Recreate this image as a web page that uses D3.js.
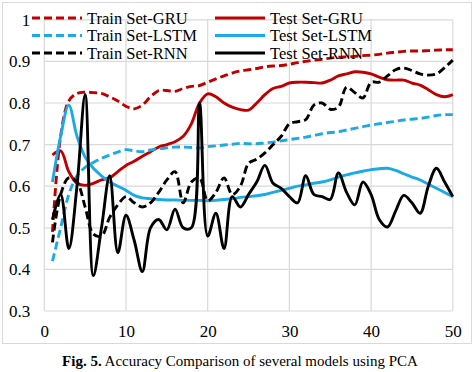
<!DOCTYPE html>
<html>
<head>
<meta charset="utf-8">
<script src="https://cdn.jsdelivr.net/npm/d3@7"></script>
<style>
  body { margin:0; background:#fff; }
  svg text { font-family:"Liberation Serif","Times New Roman",serif; }
</style>
</head>
<body>
<svg id="chart"></svg>
<script>
let width=474, height=372;
let epochs=d3.range(1,51);
let xTicks=[0,10,20,30,40,50];
let yTicks=[0.3,0.4,0.5,0.6,0.7,0.8,0.9,1];

let trainGRU=[0.49,0.72,0.805,0.823,0.826,0.825,0.823,0.815,0.805,0.792,0.786,0.795,0.815,0.83,0.83,0.828,0.835,0.84,0.842,0.85,0.858,0.865,0.872,0.877,0.88,0.883,0.887,0.889,0.89,0.893,0.897,0.9,0.903,0.905,0.908,0.91,0.911,0.912,0.914,0.915,0.917,0.92,0.922,0.924,0.925,0.925,0.926,0.927,0.928,0.928];
let testGRU=[0.675,0.685,0.635,0.607,0.602,0.607,0.615,0.62,0.635,0.65,0.66,0.672,0.683,0.694,0.7,0.707,0.72,0.75,0.8,0.822,0.815,0.8,0.79,0.784,0.783,0.8,0.82,0.835,0.84,0.848,0.85,0.85,0.849,0.848,0.855,0.865,0.87,0.875,0.874,0.87,0.862,0.856,0.855,0.855,0.848,0.843,0.832,0.82,0.815,0.82];
let trainLSTM=[0.42,0.5,0.58,0.625,0.645,0.657,0.667,0.675,0.682,0.688,0.685,0.683,0.687,0.69,0.692,0.694,0.694,0.693,0.692,0.695,0.697,0.699,0.701,0.703,0.702,0.702,0.704,0.706,0.709,0.712,0.715,0.718,0.722,0.726,0.729,0.731,0.735,0.739,0.743,0.747,0.75,0.753,0.756,0.759,0.761,0.763,0.766,0.77,0.772,0.772];
let testLSTM=[0.61,0.72,0.795,0.72,0.67,0.643,0.625,0.61,0.6,0.59,0.578,0.572,0.57,0.568,0.567,0.567,0.566,0.566,0.566,0.565,0.566,0.568,0.57,0.573,0.575,0.577,0.58,0.585,0.59,0.595,0.6,0.603,0.607,0.61,0.615,0.622,0.627,0.632,0.636,0.64,0.642,0.643,0.638,0.63,0.622,0.615,0.605,0.595,0.585,0.575];
let trainRNN=[0.465,0.58,0.62,0.61,0.55,0.485,0.48,0.525,0.555,0.575,0.56,0.55,0.56,0.585,0.615,0.635,0.56,0.61,0.62,0.565,0.585,0.62,0.58,0.6,0.655,0.665,0.68,0.7,0.72,0.75,0.755,0.76,0.795,0.8,0.785,0.79,0.838,0.825,0.812,0.85,0.85,0.865,0.88,0.884,0.878,0.87,0.867,0.87,0.885,0.903];
let testRNN=[0.52,0.58,0.45,0.6,0.82,0.385,0.5,0.625,0.44,0.53,0.47,0.395,0.5,0.52,0.495,0.545,0.5,0.5,0.8,0.48,0.535,0.45,0.575,0.55,0.58,0.61,0.65,0.607,0.595,0.575,0.56,0.625,0.58,0.575,0.568,0.632,0.585,0.555,0.61,0.58,0.52,0.502,0.54,0.578,0.56,0.535,0.6,0.643,0.61,0.575];

let seriesNames=['Train Set-GRU','Test Set-GRU','Train Set-LSTM','Test Set-LSTM','Train Set-RNN','Test Set-RNN'];
let seriesValues=[trainGRU,testGRU,trainLSTM,testLSTM,trainRNN,testRNN];
let seriesColors=['#C00000','#C00000','#1BAAE6','#1BAAE6','#000','#000'];
let seriesDashed=[true,false,true,false,true,false];

let svg=d3.select('#chart').attr('width',width).attr('height',height);

// outer frame
svg.append('rect').attr('x',2.5).attr('y',2.5).attr('width',469).attr('height',341)
   .attr('fill','#fff').attr('stroke','#D9D9D9');

let xScale=d3.scaleLinear().domain([0,50]).range([44.3,452.8]);
let yScale=d3.scaleLinear().domain([0.3,1]).range([311,19.8]);

// grid
svg.append('g').selectAll('line').data(yTicks).enter().append('line')
   .attr('x1',xScale(0)).attr('x2',xScale(50))
   .attr('y1',d=>yScale(d)).attr('y2',d=>yScale(d))
   .attr('stroke','#D9D9D9').attr('stroke-width',1.2);
svg.append('g').selectAll('line').data(xTicks).enter().append('line')
   .attr('x1',d=>xScale(d)).attr('x2',d=>xScale(d))
   .attr('y1',yScale(0.3)).attr('y2',yScale(1))
   .attr('stroke','#D9D9D9').attr('stroke-width',1.2);

// axes (labels only)
let xAxis=d3.axisBottom(xScale).tickValues(xTicks).tickSize(0).tickPadding(14).tickFormat(d3.format('d'));
let yAxis=d3.axisLeft(yScale).tickValues(yTicks).tickSize(0).tickPadding(14).tickFormat(d=>d===1?'1':d3.format('.1f')(d));
svg.append('g').attr('transform','translate(0,'+yScale(0.3)+')').call(xAxis)
   .attr('font-family',null).attr('font-size',null)
   .call(g=>g.select('.domain').remove())
   .selectAll('text').style('font-size','17px').attr('fill','#000');
svg.append('g').attr('transform','translate('+xScale(0)+',0)').call(yAxis)
   .attr('font-family',null).attr('font-size',null)
   .call(g=>g.select('.domain').remove())
   .selectAll('text').style('font-size','17px').attr('fill','#000');

// lines
let line=d3.line().curve(d3.curveCatmullRom.alpha(0.5))
   .x((d,i)=>xScale(epochs[i])).y(d=>yScale(d));
seriesValues.forEach((vals,k)=>{
  svg.append('path').datum(vals)
     .attr('d',line)
     .attr('fill','none')
     .attr('stroke',seriesColors[k])
     .attr('stroke-width',2.9)
     .attr('stroke-dasharray',seriesDashed[k]?'8,4':null);
});

// legend
let legendCols=[32,215];
let legendRows=[18,35.5,53];
seriesNames.forEach((name,k)=>{
  let lx=legendCols[k%2], ly=legendRows[Math.floor(k/2)];
  svg.append('line').attr('x1',lx).attr('x2',lx+50).attr('y1',ly).attr('y2',ly)
     .attr('stroke',seriesColors[k]).attr('stroke-width',2.9)
     .attr('stroke-dasharray',seriesDashed[k]?'8,4':null);
  svg.append('text').attr('x',lx+55).attr('y',ly).attr('dy','0.35em')
     .style('font-size','16.5px').text(name);
});

// caption
let cap=svg.append('text').attr('x',240).attr('y',366).attr('text-anchor','middle').style('font-size','15px');
cap.append('tspan').attr('font-weight','bold').text('Fig. 5.');
cap.append('tspan').text(' Accuracy Comparison of several models using PCA');
</script>
</body>
</html>
